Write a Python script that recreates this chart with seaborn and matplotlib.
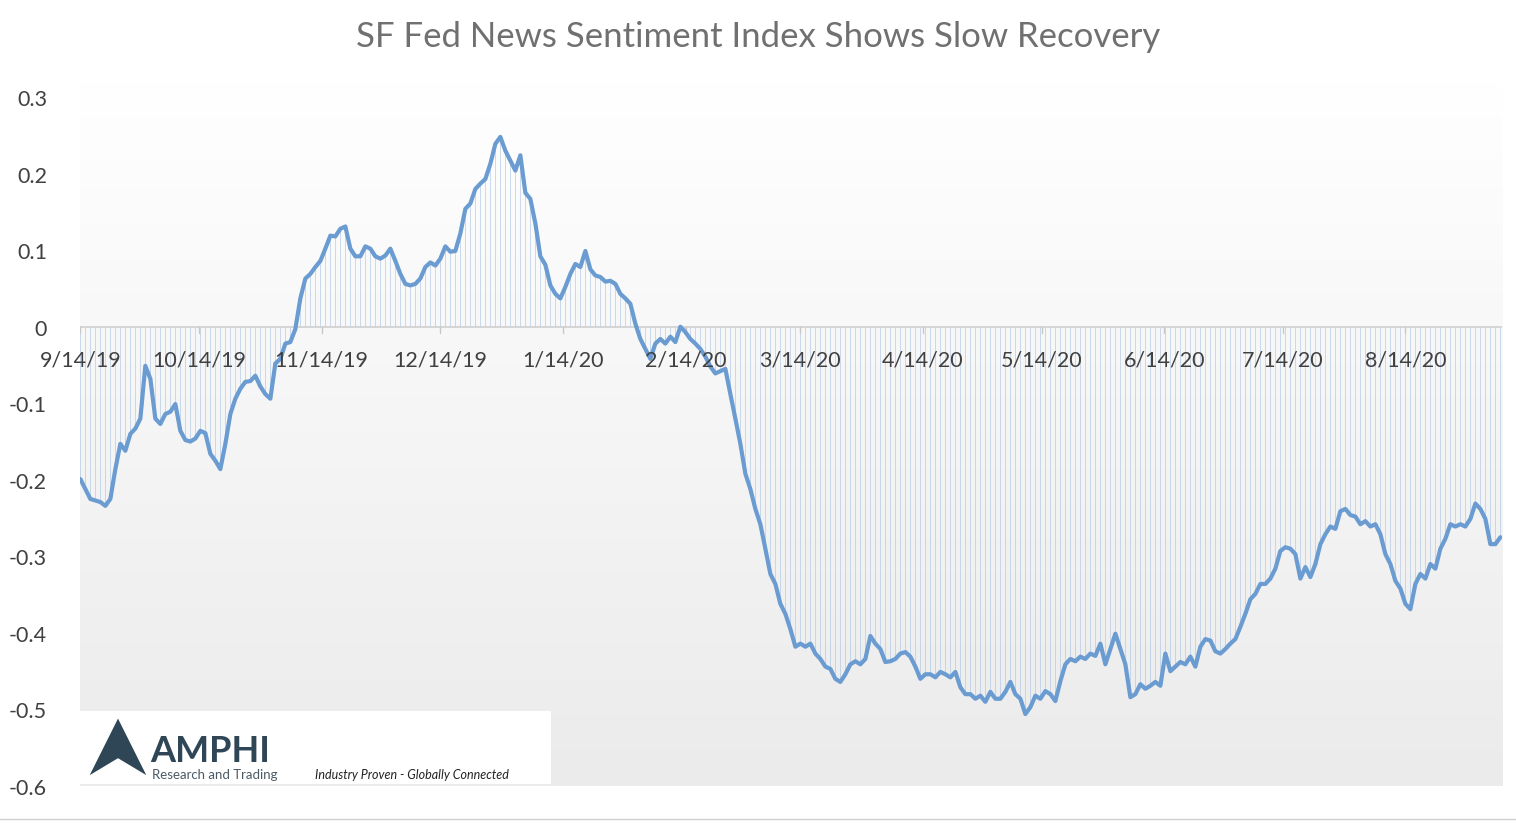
import numpy as np
import pandas as pd
import matplotlib
matplotlib.use("Agg")
import matplotlib.pyplot as plt
import seaborn as sns
from matplotlib.patches import Rectangle, Polygon

# values, evenly spaced from 9/14/19 to 9/7/20
sentiment = [
    -0.199, -0.212, -0.225, -0.227, -0.229, -0.234, -0.225, -0.186, -0.153, -0.162,
    -0.140, -0.133, -0.120, -0.051, -0.068, -0.120, -0.127, -0.114, -0.111, -0.101,
    -0.136, -0.148, -0.150, -0.146, -0.136, -0.139, -0.166, -0.175, -0.186, -0.153,
    -0.114, -0.094, -0.081, -0.072, -0.071, -0.064, -0.078, -0.088, -0.094, -0.048,
    -0.042, -0.022, -0.020, -0.003, 0.037, 0.063, 0.069, 0.078, 0.086, 0.102,
    0.119, 0.118, 0.128, 0.131, 0.102, 0.092, 0.092, 0.105, 0.102, 0.092,
    0.089, 0.093, 0.102, 0.086, 0.069, 0.056, 0.054, 0.056, 0.063, 0.078,
    0.084, 0.080, 0.089, 0.105, 0.098, 0.099, 0.122, 0.154, 0.161, 0.180,
    0.187, 0.193, 0.213, 0.239, 0.248, 0.230, 0.217, 0.204, 0.224, 0.175,
    0.167, 0.135, 0.092, 0.081, 0.054, 0.043, 0.037, 0.052, 0.069, 0.082,
    0.078, 0.099, 0.075, 0.067, 0.065, 0.059, 0.060, 0.056, 0.043, 0.037,
    0.030, 0.004, -0.016, -0.029, -0.042, -0.022, -0.016, -0.022, -0.013, -0.020,
    0.000, -0.007, -0.016, -0.022, -0.029, -0.039, -0.052, -0.061, -0.058, -0.055,
    -0.088, -0.120, -0.153, -0.192, -0.212, -0.238, -0.258, -0.290, -0.323, -0.336,
    -0.362, -0.375, -0.395, -0.418, -0.414, -0.418, -0.414, -0.427, -0.434, -0.444,
    -0.447, -0.460, -0.464, -0.454, -0.441, -0.437, -0.441, -0.434, -0.404, -0.414,
    -0.421, -0.438, -0.437, -0.434, -0.427, -0.425, -0.431, -0.444, -0.460, -0.454,
    -0.454, -0.458, -0.451, -0.454, -0.458, -0.451, -0.471, -0.480, -0.480, -0.486,
    -0.482, -0.490, -0.477, -0.486, -0.486, -0.477, -0.464, -0.480, -0.486, -0.506,
    -0.497, -0.482, -0.486, -0.476, -0.480, -0.489, -0.463, -0.441, -0.434, -0.437,
    -0.431, -0.434, -0.427, -0.430, -0.414, -0.441, -0.421, -0.401, -0.421, -0.441,
    -0.484, -0.480, -0.467, -0.473, -0.469, -0.464, -0.469, -0.427, -0.450, -0.444,
    -0.438, -0.441, -0.431, -0.444, -0.418, -0.408, -0.410, -0.424, -0.427, -0.421,
    -0.414, -0.408, -0.392, -0.375, -0.356, -0.349, -0.336, -0.336, -0.329, -0.316,
    -0.293, -0.288, -0.290, -0.297, -0.329, -0.314, -0.327, -0.310, -0.284, -0.271,
    -0.261, -0.264, -0.241, -0.238, -0.246, -0.248, -0.258, -0.254, -0.261, -0.258,
    -0.271, -0.297, -0.310, -0.332, -0.342, -0.362, -0.369, -0.336, -0.323, -0.329,
    -0.310, -0.316, -0.290, -0.277, -0.258, -0.261, -0.258, -0.261, -0.251, -0.231,
    -0.238, -0.251, -0.284, -0.284, -0.275,
]
start_date = "2019-09-14"
end_date = "2020-09-07"
tick_dates = ["2019-09-14", "2019-10-14", "2019-11-14", "2019-12-14", "2020-01-14",
              "2020-02-14", "2020-03-14", "2020-04-14", "2020-05-14", "2020-06-14",
              "2020-07-14", "2020-08-14"]
tick_labels = ["9/14/19", "10/14/19", "11/14/19", "12/14/19", "1/14/20", "2/14/20",
               "3/14/20", "4/14/20", "5/14/20", "6/14/20", "7/14/20", "8/14/20"]
y_ticks = [0.3, 0.2, 0.1, 0, -0.1, -0.2, -0.3, -0.4, -0.5, -0.6]

df = pd.DataFrame({
    "date": pd.date_range(start_date, end_date, periods=len(sentiment)),
    "value": sentiment,
})

sns.set_style("white")
plt.rcParams["font.family"] = ["Lato", "DejaVu Sans"]

fig = plt.figure(figsize=(15.16, 8.28), dpi=100)
ax = fig.add_axes([0.053, 0.0495, 0.938, 0.8505])
ymin, ymax = -0.6, 0.32
xmin, xmax = df["date"].min(), df["date"].max() + pd.Timedelta(days=0.5)

# gradient background
grad = np.linspace(1, 0, 256).reshape(-1, 1)
ax.imshow(grad, aspect="auto", cmap=plt.matplotlib.colors.LinearSegmentedColormap.from_list(
    "bg", ["#ebebeb", "#ffffff"]), extent=[matplotlib.dates.date2num(xmin),
    matplotlib.dates.date2num(xmax), ymin, ymax], zorder=0)

# drop lines to zero
ax.vlines(df["date"], 0, df["value"], color="#a9c4e4", lw=0.7, alpha=0.6, zorder=1)
sns.lineplot(data=df, x="date", y="value", ax=ax, color="#6a9bd1", lw=3, zorder=3)

ax.set_xlim(xmin, xmax)
ax.set_ylim(ymin, ymax)
ax.axhline(0, color="#d0d0d0", lw=1.2, zorder=2)
for d in pd.to_datetime(tick_dates):
    ax.plot([d, d], [0, -0.008], color="#c8c8c8", lw=1, zorder=2)
    lab = tick_labels[list(pd.to_datetime(tick_dates)).index(d)]
    ax.text(d, -0.043, lab, ha="center", va="center", fontsize=15.5, color="#404040", zorder=4)
ax.set_xticks([])
ax.set_yticks(y_ticks)
ax.set_yticklabels([f"{t:g}" for t in y_ticks], fontsize=15.5, color="#404040")
ax.tick_params(axis="y", length=0, pad=24)
for s in ax.spines.values():
    s.set_visible(False)
ax.set_xlabel("")
ax.set_ylabel("")

fig.suptitle("SF Fed News Sentiment Index Shows Slow Recovery", y=0.975,
             fontsize=25, color="#707070")

# logo box
fig.patches.append(Rectangle((80 / 1516, 1 - 785 / 828), 471 / 1516, 73 / 828,
                             transform=fig.transFigure, facecolor="white", edgecolor="none"))
fig.patches.append(Polygon([[88 / 1516, 1 - 778 / 828], [118 / 1516, 1 - 718 / 828],
                            [148 / 1516, 1 - 778 / 828], [118 / 1516, 1 - 760 / 828]],
                           closed=True, transform=fig.transFigure, facecolor="#2f4656"))
fig.text(150 / 1516, 1 - 752 / 828, "AMPHI", fontsize=26, fontweight="bold",
         color="#2f4656", va="center")
fig.text(152 / 1516, 1 - 775 / 828, "Research and Trading", fontsize=9.5,
         color="#4a5a66", va="center")
fig.text(315 / 1516, 1 - 775 / 828, "Industry Proven - Globally Connected", fontsize=9,
         style="italic", color="#222222", va="center")

fig.add_artist(plt.Line2D([0, 1], [1 - 820 / 828] * 2, color="#d0d0d0", lw=1,
                          transform=fig.transFigure))

fig.savefig("out.png", dpi=100)
